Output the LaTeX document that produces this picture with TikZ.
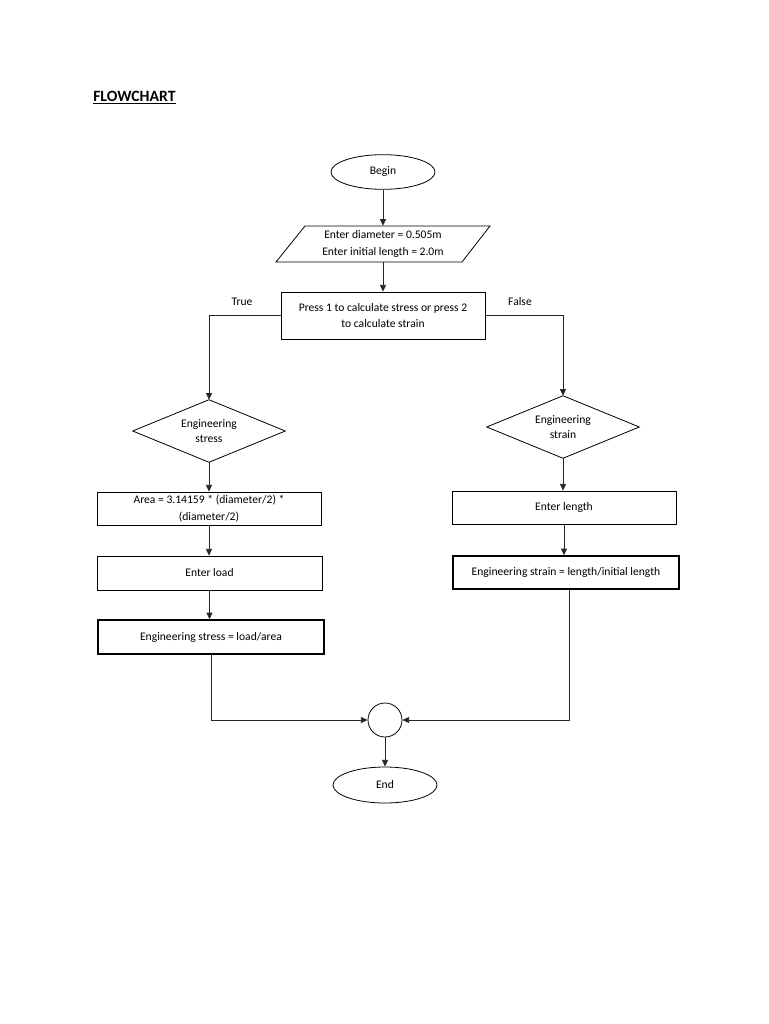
\documentclass[tikz,border=0pt]{standalone}
\usepackage{fontspec}
\setmainfont{Carlito}
\usetikzlibrary{shapes.geometric,arrows.meta}
\begin{document}
\begin{tikzpicture}[x=0.75pt,y=-0.75pt,
  every node/.style={font={\fontsize{8.7}{12.5}\selectfont}, align=center, inner sep=0pt},
  conn/.style={line width=0.6pt, draw=black!85},
  arr/.style={conn, -{Triangle[length=5pt,width=4.5pt]}},
  procbox/.style={draw, line width=0.6pt, rectangle, minimum width=168pt, minimum height=25pt},
  thickbox/.style={procbox, line width=1.1pt, minimum width=169.5pt},
  termnode/.style={draw, line width=0.6pt, ellipse, minimum width=78pt, minimum height=26pt},
  decnode/.style={rectangle, minimum width=114pt, minimum height=46.5pt, font={\fontsize{8.7}{11}\selectfont}},
  decborder/.style={draw, line width=0.6pt},
  lbl/.style={font={\fontsize{8.7}{10}\selectfont}}
]
\useasboundingbox (0,0) rectangle (768,1024);
\fill[white] (0,0) rectangle (768,1024);

\node[anchor=base west, font={\fontsize{11.8}{13}\selectfont\bfseries}] (title) at (93,101) {\underline{FLOWCHART}};

\node[termnode] (begin) at (383,172) {Begin};

\node[minimum width=139pt, minimum height=27pt] (input) at (383,244) {Enter diameter = 0.505m\\Enter initial length = 2.0m};
\draw[line width=0.6pt] (305,226) -- (490,226) -- (462,262) -- (276,262) -- cycle;

\node[procbox, minimum width=153pt, minimum height=35.25pt] (press) at (383,315.5) {Press 1 to calculate stress or press 2\\to calculate strain};

\node[lbl] (ltrue) at (242,302) {True};
\node[lbl] (lfalse) at (520,302) {False};

\node[decnode] (dstress) at (209,431) {Engineering\\stress};
\draw[decborder] (dstress.north) -- (dstress.east) -- (dstress.south) -- (dstress.west) -- cycle;
\node[decnode] (dstrain) at (563,427) {Engineering\\strain};
\draw[decborder] (dstrain.north) -- (dstrain.east) -- (dstrain.south) -- (dstrain.west) -- cycle;

\node[procbox, minimum height=24.75pt] (area) at (209,508.5) {Area = 3.14159 * (diameter/2) *\\(diameter/2)};
\node[procbox, minimum width=168.75pt, minimum height=25.5pt] (load) at (209.5,573) {Enter load};
\node[thickbox, minimum height=25.5pt] (stress) at (211,637) {Engineering stress = load/area};

\node[procbox, minimum height=24.75pt] (length) at (564,507.5) {Enter length};
\node[thickbox, minimum height=24.75pt] (strain) at (566,572.5) {Engineering strain = length/initial length};

\node[draw, line width=0.6pt, circle, minimum size=25.5pt] (join) at (385,720) {};
\node[termnode, minimum height=27pt] (end) at (385,785) {End};

\draw[arr] (begin) -- (input);
\draw[arr] (input) -- (press);
\draw[arr] (press.west) -| (dstress.north);
\draw[arr] (press.east) -| (dstrain.north);
\draw[arr] (dstress.south) -- (area);
\draw[arr] (area) -- (area |- load.north);
\draw[arr] (load) -- (load |- stress.north);
\draw[arr] (dstrain.south) -- (dstrain.south |- length.north);
\draw[arr] (length) -- (length |- strain.north);
\draw[arr] (stress.south) |- (join.west);
\draw[arr] ([xshift=2.25pt]strain.south) |- (join.east);
\draw[arr] (join) -- (end);
\end{tikzpicture}
\end{document}
